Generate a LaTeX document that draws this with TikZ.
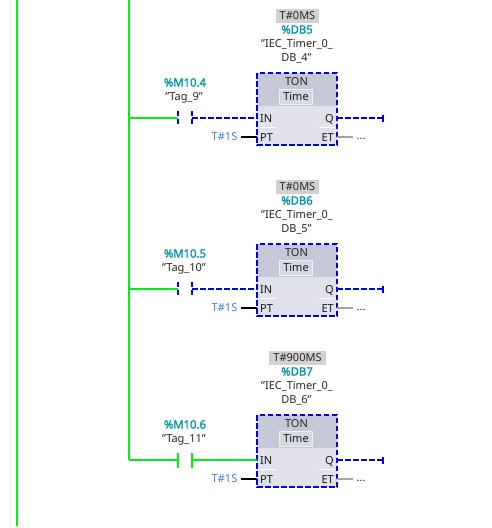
\documentclass[tikz,border=0pt]{standalone}
\usepackage{fontspec}
\setmainfont{Noto Sans}
\newfontfamily\addrfont[FakeBold=1.6]{Noto Sans}
\definecolor{rail}{RGB}{0,240,20}
\definecolor{wireblue}{RGB}{0,0,240}
\definecolor{addr}{RGB}{0,150,165}
\definecolor{hdr}{RGB}{197,200,215}
\definecolor{bodyc}{RGB}{224,225,234}
\definecolor{timec}{RGB}{70,120,220}
\definecolor{etgray}{RGB}{165,165,165}
\tikzset{
  x=1pt,y=-1pt,
  railline/.style={rail,line width=2pt},
  wiredash/.style={wireblue,line width=2pt,dash pattern=on 5.5pt off 2.5pt},
  txt/.style={inner sep=0pt,font=\fontsize{11}{12}\selectfont,text=black!85},
  addrtxt/.style={inner sep=0pt,font=\fontsize{11.3}{12}\addrfont,text=addr},
  pintxt/.style={inner sep=0pt,font=\fontsize{11}{12}\selectfont,text=black!90},
  timetxt/.style={inner sep=0pt,font=\fontsize{11}{12}\selectfont,text=timec},
  graytag/.style={fill=black!18,inner sep=0pt,minimum height=14pt,font=\fontsize{11}{12}\selectfont,text=black!85},
  timebox/.style={fill=hdr!70!white,draw=white!70!hdr,line width=.7pt,minimum width=33pt,minimum height=15pt,inner sep=0pt,font=\fontsize{11}{12}\selectfont,text=black!90},
}
% #1 id, #2 y offset of the block top, #3 preset, #4 tag width, #5 DB, #6 DB name line,
% #7 address, #8 tag, #9 1 = solid green input
\newcommand{\timerrung}[9]{%
  \begin{scope}[yshift=-#2pt]
    \fill[bodyc] (257,0) rectangle (337,72);
    \fill[hdr] (257,0) rectangle (337,33);
    \draw[white,line width=.7pt] (260,54.5) -- (276,54.5);
    \draw[white,line width=.7pt] (319,54.5) -- (335,54.5);
    \draw[wiredash] (257,0) rectangle (337,72);
    \node[txt] (ton#1) at (296.5,8.5) {TON};
    \node[timebox] (time#1) at (296,23.5) {Time};
    \node[graytag,minimum width=#4pt] (pre#1) at (297.5,-57) {#3};
    \node[addrtxt] (db#1) at (297,-43.5) {#5};
    \node[txt] (na#1) at (297,-28.5) {"IEC\_Timer\_0\_};
    \node[txt] (nb#1) at (296.5,-14.5) {#6"};
    \node[addrtxt] (ad#1) at (185,9.5) {#7};
    \node[txt] (tg#1) at (184,24.5) {"#8"};
    \node[pintxt,anchor=west] (in#1) at (260,46) {IN};
    \node[pintxt,anchor=west] (pt#1) at (260,65) {PT};
    \node[pintxt,anchor=east] (q#1) at (334,46) {Q};
    \node[pintxt,anchor=east] (et#1) at (334,65) {ET};
    \node[timetxt,anchor=east] (tv#1) at (237.5,63.5) {T\#1S};
    \node[txt,anchor=west] (dots#1) at (356.5,66) {...};
    \coordinate (ca#1) at (178,45);
    \coordinate (cb#1) at (192,45);
    \coordinate (end#1) at (383,45);
    \coordinate (pin#1) at (257,45);
    \coordinate (qo#1) at (337,45);
    \coordinate (ptw#1) at (241,64);
    \coordinate (ptin#1) at (257,64);
    \coordinate (eto#1) at (337,64);
    \coordinate (etw#1) at (353,64);
    \coordinate (rail#1) at (129,45);
    \draw[railline] (rail#1) -- (ca#1);
    \ifnum#9=1
      \draw[railline] (ca#1) ++(0,-7.5) -- ++(0,15);
      \draw[railline] (cb#1) ++(0,-7.5) -- ++(0,15);
      \draw[railline] (cb#1) -- (pin#1);
    \else
      \draw[wiredash] (ca#1) ++(0,-7.5) -- ++(0,15);
      \draw[wiredash] (cb#1) ++(0,-7.5) -- ++(0,15);
      \draw[wiredash] (cb#1) -- (pin#1);
    \fi
    \draw[wiredash] (qo#1) -- (end#1);
    \draw[wireblue,line width=2pt] (end#1) ++(0,-3.5) -- ++(0,7);
    \draw[black,line width=2pt] (ptw#1) -- (ptin#1);
    \draw[etgray,line width=2pt] (eto#1) -- (etw#1);
  \end{scope}}
\begin{document}
\begin{tikzpicture}
  \useasboundingbox (0,0) rectangle (492,528);
  \fill[white] (0,0) rectangle (492,528);
  \draw[black!8,line width=.8pt] (10.5,0) -- (10.5,528);
  \coordinate (leftT) at (17,0);
  \coordinate (leftB) at (17,526);
  \coordinate (midT) at (129,0);
  \coordinate (midB) at (129,460);
  \draw[railline] (leftT) -- (leftB);
  \draw[railline] (midT) -- (midB);
  \timerrung{a}{73}{T\#0MS}{43}{\%DB5}{DB\_4}{\%M10.4}{Tag\_9}{0}
  \timerrung{b}{244}{T\#0MS}{43}{\%DB6}{DB\_5}{\%M10.5}{Tag\_10}{0}
  \timerrung{c}{415}{T\#900MS}{57}{\%DB7}{DB\_6}{\%M10.6}{Tag\_11}{1}
\end{tikzpicture}
\end{document}
